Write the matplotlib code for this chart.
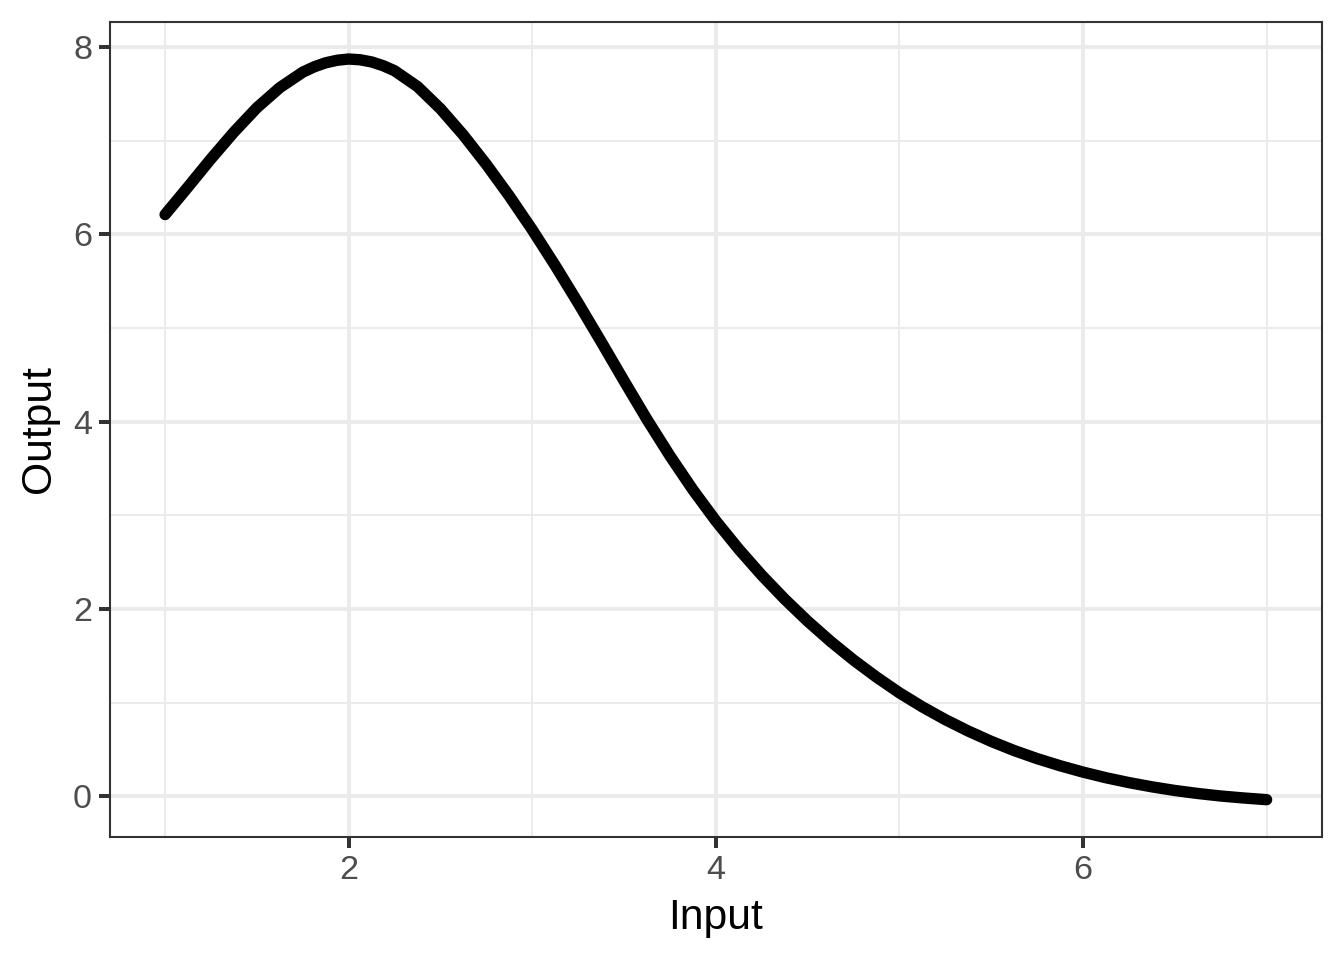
import matplotlib
matplotlib.use('Agg')
import matplotlib.pyplot as plt

# values (denser where it bends)
input_vals = [1.0, 1.125, 1.25, 1.375, 1.5, 1.625, 1.75, 1.8125, 1.875,
              1.9375, 2.0, 2.0625, 2.125, 2.1875, 2.25, 2.375, 2.5,
              2.625, 2.75, 2.875, 3.0, 3.125, 3.25, 3.375, 3.5,
              3.625, 3.75, 3.875, 4.0, 4.125, 4.25, 4.375, 4.5,
              4.625, 4.75, 4.875, 5.0, 5.125, 5.25, 5.375, 5.5,
              5.625, 5.75, 5.875, 6.0, 6.125, 6.25, 6.375, 6.5,
              6.625, 6.75, 6.875, 7.0]
output_vals = [6.21, 6.505, 6.805, 7.09, 7.35, 7.565, 7.73, 7.787, 7.83,
               7.857, 7.87, 7.862, 7.839, 7.799, 7.745, 7.576, 7.339,
               7.058, 6.745, 6.408, 6.048, 5.666, 5.266, 4.854, 4.435,
               4.023, 3.635, 3.273, 2.941, 2.639, 2.361, 2.106, 1.871,
               1.655, 1.456, 1.274, 1.106, 0.956, 0.820, 0.698, 0.588,
               0.490, 0.404, 0.328, 0.260, 0.200, 0.148, 0.103, 0.064,
               0.032, 0.005, -0.016, -0.034]
x_major = [2, 4, 6]
x_minor = [1, 3, 5, 7]
y_major = [0, 2, 4, 6, 8]
y_minor = [1, 3, 5, 7]

plt.rcParams['font.family'] = ['Liberation Sans', 'DejaVu Sans']

fig = plt.figure(figsize=(13.44, 9.6), dpi=100)
ax = fig.add_axes([110 / 1344, (960 - 836.7) / 960,
                   (1321.7 - 110) / 1344, (836.7 - 22) / 960])

grid_col = '#EBEBEB'
for v in x_minor:
    ax.axvline(v, color=grid_col, lw=1.44, zorder=0)
for v in y_minor:
    ax.axhline(v, color=grid_col, lw=1.44, zorder=0)
for v in x_major:
    ax.axvline(v, color=grid_col, lw=2.88, zorder=0)
for v in y_major:
    ax.axhline(v, color=grid_col, lw=2.88, zorder=0)

ax.plot(input_vals, output_vals, color='black', lw=8.2,
        solid_capstyle='round', solid_joinstyle='round', zorder=3)

# ggplot-style 5% expansion
xr = max(input_vals) - min(input_vals)
yr = max(output_vals) - min(output_vals)
ax.set_xlim(min(input_vals) - 0.05 * xr, max(input_vals) + 0.05 * xr)
ax.set_ylim(min(output_vals) - 0.05 * yr, max(output_vals) + 0.05 * yr)

ax.set_xticks(x_major)
ax.set_yticks(y_major)
ax.tick_params(axis='both', length=7.9, width=2.88, color='#333333',
               labelcolor='#4D4D4D', labelsize=24.6)
ax.tick_params(axis='x', pad=5)
ax.tick_params(axis='y', pad=5)

for sp in ax.spines.values():
    sp.set_color('#333333')
    sp.set_linewidth(1.5)

ax.set_xlabel('Input', fontsize=30.7, color='black', labelpad=9)
ax.set_ylabel('Output', fontsize=30.7, color='black', labelpad=10)

fig.savefig('out.png', dpi=100)
